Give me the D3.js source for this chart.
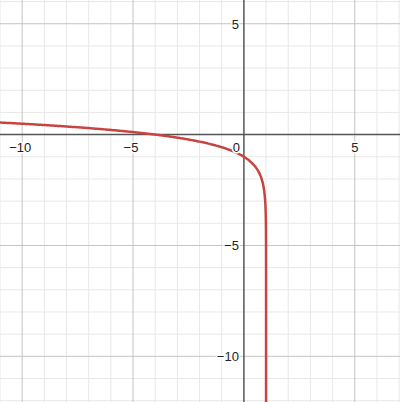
<!DOCTYPE html>
<html>
<head>
<meta charset="utf-8">
<script src="https://cdn.jsdelivr.net/npm/d3@7"></script>
<style>
  html, body { margin: 0; padding: 0; background: #fff; }
  svg { display: block; }
  text { font-family: "Liberation Sans", Arial, sans-serif; font-size: 13px; fill: #222; }
</style>
</head>
<body>
<svg id="chart"></svg>
<script>
const width = 400, height = 402;

// view window
const xDomain = [-11.0, 7.04];
const yDomain = [-12.06, 6.07];
const minorTicks = [-11, -10, -9, -8, -7, -6, -5, -4, -3, -2, -1, 0, 1, 2, 3, 4, 5, 6, 7];
const minorTicksY = [-12, -11, -10, -9, -8, -7, -6, -5, -4, -3, -2, -1, 0, 1, 2, 3, 4, 5, 6];
const xLabels = [-10, -5, 5];
const yLabels = [5, -5, -10];

// curve: y = log5(1 - x) - 1
const logBase = 5;
const shift = -1;

const x = d3.scaleLinear().domain(xDomain).range([0, width]);
const y = d3.scaleLinear().domain(yDomain).range([height, 0]);

const svg = d3.select("#chart").attr("width", width).attr("height", height);

// minor grid
svg.append("g").selectAll("line").data(minorTicks.filter(d => d % 5 !== 0)).join("line")
  .attr("x1", d => x(d)).attr("x2", d => x(d)).attr("y1", 0).attr("y2", height)
  .attr("stroke", "#e8e8e8").attr("stroke-width", 1);
svg.append("g").selectAll("line").data(minorTicksY.filter(d => d % 5 !== 0)).join("line")
  .attr("y1", d => y(d)).attr("y2", d => y(d)).attr("x1", 0).attr("x2", width)
  .attr("stroke", "#e8e8e8").attr("stroke-width", 1);

// major grid
svg.append("g").selectAll("line").data(minorTicks.filter(d => d % 5 === 0 && d !== 0)).join("line")
  .attr("x1", d => x(d)).attr("x2", d => x(d)).attr("y1", 0).attr("y2", height)
  .attr("stroke", "#c4c4c4").attr("stroke-width", 1);
svg.append("g").selectAll("line").data(minorTicksY.filter(d => d % 5 === 0 && d !== 0)).join("line")
  .attr("y1", d => y(d)).attr("y2", d => y(d)).attr("x1", 0).attr("x2", width)
  .attr("stroke", "#c4c4c4").attr("stroke-width", 1);

// axes
svg.append("line").attr("x1", 0).attr("x2", width).attr("y1", y(0)).attr("y2", y(0))
  .attr("stroke", "#555").attr("stroke-width", 1.5);
svg.append("line").attr("x1", x(0)).attr("x2", x(0)).attr("y1", 0).attr("y2", height)
  .attr("stroke", "#555").attr("stroke-width", 1.5);

// curve
const f = t => Math.log(1 - t) / Math.log(logBase) + shift;
const pts = [];
d3.range(xDomain[0], 0.9, 0.05).forEach(t => pts.push([t, f(t)]));
// dense sampling near the asymptote at x = 1
d3.range(-1, -12, -0.25).forEach(v => pts.push([1 - Math.pow(logBase, v - shift), v]));
pts.push([1 - Math.pow(logBase, yDomain[0] - 1 - shift), yDomain[0] - 1]);
pts.sort((a, b) => a[0] - b[0]);

const line = d3.line().x(d => x(d[0])).y(d => y(d[1])).curve(d3.curveLinear);
svg.append("path").datum(pts).attr("d", line)
  .attr("fill", "none").attr("stroke", "#c74440").attr("stroke-width", 2.5);

// labels with white halo
function label(txt, px, py, anchor) {
  svg.append("text").attr("x", px).attr("y", py).attr("text-anchor", anchor)
    .attr("stroke", "#fff").attr("stroke-width", 3).attr("stroke-linejoin", "round")
    .style("fill", "#fff").text(txt);
  svg.append("text").attr("x", px).attr("y", py).attr("text-anchor", anchor).text(txt);
}
xLabels.forEach(d => label(d < 0 ? "\u2212" + Math.abs(d) : d, x(d) - (d < 0 ? 2 : 0), y(0) + 17, "middle"));
yLabels.forEach(d => label(d < 0 ? "\u2212" + Math.abs(d) : d, x(0) - 5, y(d) + 5, "end"));
label("0", x(0) - 4, y(0) + 17, "end");
</script>
</body>
</html>
